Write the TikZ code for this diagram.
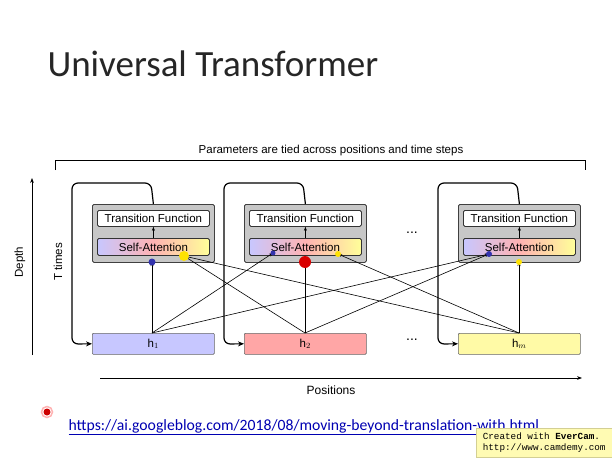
\documentclass[tikz,border=0pt]{standalone}
\usepackage{fontspec}
\setmainfont{Liberation Sans}
\newfontfamily\calib{Carlito}
\newfontfamily\monof{Liberation Mono}
\usetikzlibrary{arrows.meta}
\begin{document}
\begin{tikzpicture}[x=1pt,y=-1pt,
  gbox/.style={draw=black!75,fill=black!22,rounded corners=1.5,line width=0.8pt},
  wbox/.style={draw=black!80,fill=white,rounded corners=1.5,line width=0.8pt,inner sep=0pt,font=\fontsize{11.5}{12}\selectfont},
  hbox/.style={draw=black!60,rounded corners=1,line width=0.6pt,font=\fontsize{11.5}{12}\selectfont},
  ln/.style={line width=0.6pt,-{Stealth[length=4pt,width=3pt]}},
  loop/.style={line width=1.2pt,rounded corners=6,-{Stealth[length=6pt,width=5pt]}}]
\useasboundingbox (0,0) rectangle (612,457);
\fill[white] (0,0) rectangle (612,457);
\node[anchor=west,font=\calib\fontsize{37}{40}\selectfont,text=black!85] (title) at (44,64) {Universal Transformer};
\node[font=\fontsize{11.5}{12}\selectfont] (tied) at (331,151) {Parameters are tied across positions and time steps};
\draw[line width=0.6pt] (55,170) -- (55,160) -- (585,160) -- (585,170);
\coordinate (d1) at (32,355); \coordinate (d2) at (32,178);
\draw[line width=0.8pt,-{Stealth[length=5pt]}] (d1) -- (d2);
\node[rotate=90,font=\fontsize{11.5}{12}\selectfont] (depth) at (20,262) {Depth};
\node[rotate=90,font=\fontsize{11.5}{12}\selectfont] (tt) at (58,262) {T times};
\coordinate (p1) at (100,378); \coordinate (p2) at (582,378);
\draw[line width=0.8pt,-{Stealth[length=5pt]}] (p1) -- (p2);
\node[font=\fontsize{12}{13}\selectfont] (pos) at (331,390) {Positions};
\foreach \i/\x/\c/\l in {1/92/blue!22/h$_1$,2/244/red!35/h$_2$,3/458/yellow!35/h$_m$}{
  \node[gbox,minimum width=122,minimum height=58,anchor=north west] (g\i) at (\x,204) {};
  \node[wbox,minimum width=112,minimum height=16,anchor=north west] (tf\i) at (\x+5,210) {Transition Function};
  \node[wbox,minimum width=112,minimum height=17,anchor=north west,
        left color=blue!22,right color=yellow!40,middle color=red!30] (sa\i) at (\x+5,238) {Self-Attention};
  \node[hbox,fill=\c,minimum width=122,minimum height=21,anchor=north west] (h\i) at (\x,333) {\l};
  \draw[line width=0.6pt,-{Stealth[length=4pt,width=3pt]}] (sa\i.north) -- (tf\i.south);
  \coordinate (lt\i) at (\x+59,183);
  \coordinate (ll\i) at (\x-20,183);
  \coordinate (lb\i) at (\x-20,344);
  \draw[loop] (g\i.north) -- (lt\i) -- (ll\i) -- (lb\i) -- (h\i.west);
}
\node[font=\fontsize{14}{14}\selectfont] (dots1) at (412,233) {...};
\node[font=\fontsize{14}{14}\selectfont] (dots2) at (412,340) {...};
% dots
\coordinate (b1) at (152,262); \coordinate (y1) at (184,256);
\coordinate (b2) at (273,253); \coordinate (r2) at (305,262); \coordinate (y2) at (338,254);
\coordinate (b3) at (489,254); \coordinate (y3) at (519,262);
\coordinate (t1) at (152,333); \coordinate (t2) at (305,333); \coordinate (t3) at (519,333);
\foreach \a/\b in {t1/b1,t1/b2,t1/b3,t2/y1,t2/r2,t2/b3,t3/y1,t3/y2,t3/y3}{
  \draw[ln] (\a) -- (\b);}
\fill[blue!60!black!80] (b1) circle (3.5);
\fill[yellow!85!orange] (y1) circle (5);
\fill[blue!60!black!80] (b2) circle (2.5);
\fill[red!85!black] (r2) circle (6);
\fill[yellow!85!orange] (y2) circle (3);
\fill[blue!60!black!80] (b3) circle (3);
\fill[yellow!85!orange] (y3) circle (3);
\node[anchor=west,font=\calib\fontsize{15.7}{16}\selectfont,text=blue!70!black] (url) at (65,427) {\underline{https://ai.googleblog.com/2018/08/moving-beyond-translation-with.html}};
\fill[red!80!black] (47,412) circle (3.5);
\draw[red!30,line width=1.5pt] (47,412) circle (5.5);
\node[draw=yellow!60!black!50,fill=yellow!30,anchor=north west,minimum width=136,minimum height=29,inner sep=2pt,align=left,font=\fontsize{9.3}{11}\selectfont] (ever) at (476,428) {\monof Created with \textbf{EverCam}.\\\monof http://www.camdemy.com};
\end{tikzpicture}
\end{document}
